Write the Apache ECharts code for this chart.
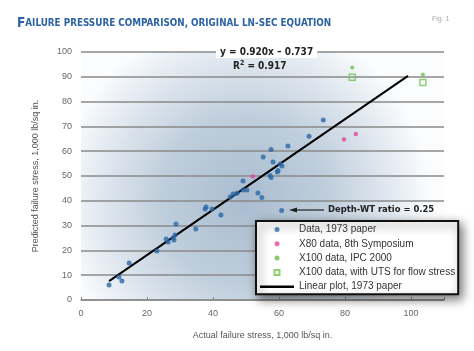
<!DOCTYPE html>
<html>
<head>
<meta charset="utf-8">
<script src="https://cdn.jsdelivr.net/npm/echarts@6/dist/echarts.min.js"></script>
<style>
  html, body { margin: 0; padding: 0; background: #fff; }
  #main { width: 474px; height: 351px; }
</style>
</head>
<body>
<div id="main"></div>
<script>
// data: [actual, predicted], 1,000 lb/sq in.
var data1973 = [
  [8.5, 6.0], [11.5, 9.3], [12.4, 7.7], [14.6, 14.9], [23.0, 19.8],
  [25.8, 24.6], [26.4, 23.4], [27.9, 25.0], [28.2, 24.2], [28.5, 26.2],
  [28.8, 30.6], [34.8, 28.6], [37.6, 36.7], [37.9, 37.5], [39.7, 36.7],
  [42.4, 34.3], [45.2, 41.5], [46.1, 42.7], [47.3, 43.0], [49.1, 48.0],
  [49.1, 44.4], [50.3, 44.4], [53.6, 43.1], [54.8, 41.3], [57.3, 50.2],
  [57.6, 49.4], [59.5, 51.6], [59.7, 52.2], [55.2, 57.7], [57.6, 60.7],
  [58.2, 55.6], [60.9, 54.0], [60.4, 54.8], [62.7, 62.1], [69.1, 66.0],
  [73.4, 72.6], [60.8, 36.1]
];
var dataX80 = [[52.1, 49.8], [79.7, 64.7], [83.3, 66.9]];
var dataX100 = [[82.2, 93.8], [103.6, 90.9]];
var dataX100Uts = [[82.2, 89.8], [103.6, 87.7]];
var linearPlot = [[8.5, 7.6], [99.1, 90.4]];
var xTicks = [0, 20, 40, 60, 80, 100];
var yTicks = [0, 10, 20, 30, 40, 50, 60, 70, 80, 90, 100];

var gray = '#8a8a8a';
var labelFont = 'Liberation Sans';
var condFont = 'DejaVu Sans Condensed';

var chart = echarts.init(document.getElementById('main'));

var option = {
  animation: false,
  backgroundColor: '#fff',
  title: {
    left: 12,
    top: 11,
    text: '{a|F}{b|AILURE PRESSURE COMPARISON, ORIGINAL LN-SEC EQUATION}',
    textStyle: {
      rich: {
        a: { fontFamily: condFont, fontWeight: 'bold', fontSize: 13.5, color: '#2d63a3' },
        b: { fontFamily: condFont, fontWeight: 'bold', fontSize: 9.8, color: '#2d63a3' }
      }
    }
  },
  grid: {
    left: 81, right: 30, top: 52, bottom: 51,
    show: true,
    borderWidth: 0,
    backgroundColor: {
      type: 'radial', x: 0.45, y: 0.6, r: 0.75,
      colorStops: [
        { offset: 0, color: '#a9bccf' },
        { offset: 0.45, color: '#bfcedc' },
        { offset: 0.8, color: '#e3eaf1' },
        { offset: 1, color: '#fbfcfd' }
      ]
    }
  },
  legend: {
    orient: 'vertical',
    left: 256,
    top: 221,
    padding: [3, 3, 2, 4],
    itemGap: 3.3,
    itemWidth: 34,
    itemHeight: 5,
    backgroundColor: '#fff',
    borderColor: '#111',
    borderWidth: 2,
    shadowColor: 'rgba(0,0,0,0.55)',
    shadowBlur: 10,
    shadowOffsetX: 3,
    shadowOffsetY: 4,
    textStyle: { fontFamily: labelFont, fontSize: 10, color: '#333', lineHeight: 11 },
    data: [
      { name: 'Data, 1973 paper', icon: 'circle' },
      { name: 'X80 data, 8th Symposium', icon: 'circle' },
      { name: 'X100 data, IPC 2000', icon: 'circle' },
      { name: 'X100 data, with UTS for flow stress', icon: 'path://M0 0 H10 V10 H0 Z' },
      { name: 'Linear plot, 1973 paper', icon: 'path://M0 0 H40 V3 H0 Z',
        itemStyle: { color: '#000', borderWidth: 0 } }
    ]
  },
  xAxis: {
    type: 'value',
    min: 0, max: 110, interval: 20,
    name: 'Actual failure stress, 1,000 lb/sq in.',
    nameLocation: 'middle',
    nameGap: 31,
    nameTextStyle: { fontFamily: labelFont, fontSize: 9, color: '#555' },
    axisLine: { lineStyle: { color: gray, width: 1.5 } },
    axisTick: { inside: true, length: 3, lineStyle: { color: gray } },
    splitLine: { show: false },
    axisLabel: {
      fontFamily: labelFont, fontSize: 9, color: '#666', margin: 9,
      formatter: function (v) { return xTicks.indexOf(v) >= 0 ? String(v) : ''; }
    }
  },
  yAxis: {
    type: 'value',
    min: 0, max: 100, interval: 10,
    name: 'Predicted failure stress, 1,000 lb/sq in.',
    nameLocation: 'middle',
    nameGap: 41,
    nameTextStyle: { fontFamily: labelFont, fontSize: 9, color: '#555' },
    axisLine: { show: false },
    axisTick: { show: false },
    splitLine: { lineStyle: { color: gray, width: 1.6 } },
    axisLabel: {
      fontFamily: labelFont, fontSize: 9, color: '#666', margin: 9,
      formatter: function (v) { return yTicks.indexOf(v) >= 0 ? String(v) : ''; }
    }
  },
  series: [
    {
      name: 'Data, 1973 paper', type: 'scatter', data: data1973,
      symbolSize: 5, itemStyle: { color: '#2a68a8' }, z: 3
    },
    {
      name: 'X80 data, 8th Symposium', type: 'scatter', data: dataX80,
      symbolSize: 4.5, itemStyle: { color: '#e0489c' }, z: 3
    },
    {
      name: 'X100 data, IPC 2000', type: 'scatter', data: dataX100,
      symbolSize: 4, itemStyle: { color: '#6cbf48' }, z: 3
    },
    {
      name: 'X100 data, with UTS for flow stress', type: 'scatter', data: dataX100Uts,
      symbol: 'rect', symbolSize: 6,
      itemStyle: { color: 'rgba(255,255,255,0)', borderColor: '#74c350', borderWidth: 1.5 }, z: 3
    },
    {
      name: 'Linear plot, 1973 paper', type: 'line', data: linearPlot,
      symbol: 'none', itemStyle: { color: '#000' },
      lineStyle: { color: '#000', width: 2 }, z: 2
    }
  ],
  graphic: [
    {
      type: 'text', left: 432, top: 16, z: 100,
      style: { text: 'Fig. 1', fontFamily: labelFont, fontSize: 7, fill: '#aaa' }
    },
    {
      type: 'text', left: 216, top: 46, z: 100,
      style: {
        text: 'y = 0.920x \u2013 0.737', fontFamily: condFont, fontWeight: 'bold',
        fontSize: 10, fill: '#222', backgroundColor: '#fff', padding: [1, 4]
      }
    },
    {
      type: 'text', left: 233, top: 60, z: 100,
      style: {
        text: '{n|R}{s|2}{n| = 0.917}',
        rich: {
          n: { fontFamily: condFont, fontWeight: 'bold', fontSize: 10, fill: '#222' },
          s: { fontFamily: condFont, fontWeight: 'bold', fontSize: 7, fill: '#222', verticalAlign: 'top', padding: [0, 0, 5, 0] }
        }
      }
    },
    {
      type: 'text', left: 328, top: 205, z: 100,
      style: {
        text: 'Depth-WT ratio = 0.25', fontFamily: condFont, fontWeight: 'bold',
        fontSize: 9.4, fill: '#222'
      }
    },
    {
      type: 'line', z: 100,
      shape: { x1: 324, y1: 210, x2: 292, y2: 210 },
      style: { stroke: '#222', lineWidth: 1.2 }
    },
    {
      type: 'polygon', z: 100,
      shape: { points: [[289, 210], [297, 207.5], [297, 212.5]] },
      style: { fill: '#222' }
    }
  ]
};

chart.setOption(option);
</script>
</body>
</html>
